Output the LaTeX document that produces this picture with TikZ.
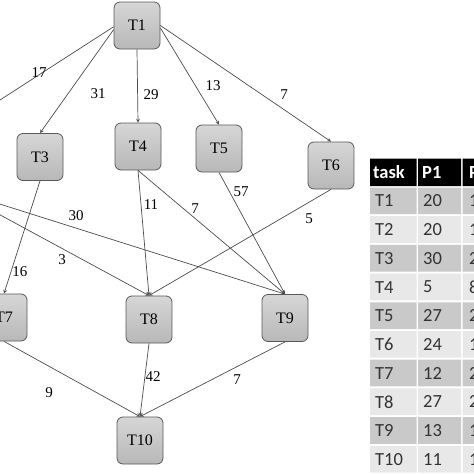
\documentclass[tikz,border=0pt]{standalone}
\usepackage{fontspec}
\setmainfont{Liberation Serif}
\newfontfamily\tablefont{Carlito}

\begin{document}
\begin{tikzpicture}[
            x=1pt, y=-1pt,
            >=stealth,
            task/.style={draw=black!65, line width=0.8pt, rounded corners=6pt, top color=black!16, bottom color=black!28,
                minimum width=46pt, minimum height=47pt, inner sep=0pt, font=\fontsize{16}{16}\selectfont},
            wt/.style={inner sep=0pt, font=\fontsize{15}{15}\selectfont},
            dep/.style={->, draw=black!70, line width=0.7pt},
            hdr/.style={anchor=west, inner sep=0pt, text=white, font=\tablefont\bfseries\fontsize{18.5}{18.5}\selectfont},
            cell/.style={anchor=west, inner sep=0pt, text=black!80, font=\tablefont\fontsize{18.5}{18.5}\selectfont}
        ]
            \path[use as bounding box, clip] (0,0) rectangle (474,474);

            \node[task] (T1) at (137,25.5) {T1};
            \node[task] (T3) at (40,157) {T3};
            \node[task] (T4) at (138,146.5) {T4};
            \node[task] (T5) at (219,148.5) {T5};
            \node[task] (T6) at (331,165.5) {T6};
            \node[task] (T7) at (4,317.5) {T7};
            \node[task] (T8) at (149,319.5) {T8};
            \node[task] (T9) at (285,318) {T9};
            \node[task] (T10) at (140,440.5) {T10};
            \coordinate (t2a) at (-20,112.9);
            \coordinate (t2b) at (-20,197.8);
            \coordinate (t2c) at (-20,204);

            \draw[dep] (T1.183) -- (t2a);
            \draw[dep] (T1.190) -- (T3.north);
            \draw[dep] (T1.south) -- (T4.north);
            \draw[dep] (T1.354) -- (T5.north);
            \draw[dep] (T1.0) -- (T6.north);
            \draw[dep] (T3.south) -- (T7.north);
            \draw[dep] (t2b) -- (T9.north);
            \draw[dep] (t2c) -- (T8.north);
            \draw[dep] (T4.south) -- (T8.north);
            \draw[dep] (T4.south) -- (T9.north);
            \draw[dep] (T5.south) -- (T9.north);
            \draw[dep] (T6.south) -- (T8.north);
            \draw[dep] (T7.south) -- (T10.north);
            \draw[dep] (T8.south) -- (T10.north);
            \draw[dep] (T9.south) -- (T10.north);

            \node[wt] (w12) at (39,73) {17};
            \node[wt] (w13) at (98,94) {31};
            \node[wt] (w14) at (151,95) {29};
            \node[wt] (w15) at (213,86) {13};
            \node[wt] (w16) at (284,95) {7};
            \node[wt] (w37) at (20,272) {16};
            \node[wt] (w29) at (76,216) {30};
            \node[wt] (w28) at (62,260) {3};
            \node[wt] (w48) at (151,205) {11};
            \node[wt] (w49) at (195,209) {7};
            \node[wt] (w59) at (241,192) {57};
            \node[wt] (w68) at (309,219) {5};
            \node[wt] (w710) at (49,393) {9};
            \node[wt] (w810) at (153,377) {42};
            \node[wt] (w910) at (237,380) {7};

            \fill[black] (370,158.5) rectangle (416.5,186) (418,158.5) rectangle (461,186) (462.5,158.5) rectangle (480,186);
            \node[hdr] (htask) at (373,172.5) {task};
            \node[hdr] (hp1) at (422,172.5) {P1};
            \node[hdr] (hp2) at (469,172.5) {P2};
            \foreach \t/\a/\b [count=\i] in {T1/20/1, T2/20/1, T3/30/2, T4/5/8, T5/27/2, T6/24/1, T7/12/2, T8/27/2, T9/13/1, T10/11/1} {
                \pgfmathsetmacro{\top}{186.5+(\i-1)*28.7}
                \ifodd\i \def\rowcol{black!21}\else \def\rowcol{black!9}\fi
                \fill[\rowcol] (370,\top+1) rectangle (416.5,\top+27.7) (418,\top+1) rectangle (461,\top+27.7) (462.5,\top+1) rectangle (480,\top+27.7);
                \node[cell] (c\i) at (375,\top+14.5) {\t};
                \node[cell] (p\i) at (423,\top+14.5) {\a};
                \node[cell] (q\i) at (469,\top+14.5) {\b};
            }
        \end{tikzpicture}
\end{document}
